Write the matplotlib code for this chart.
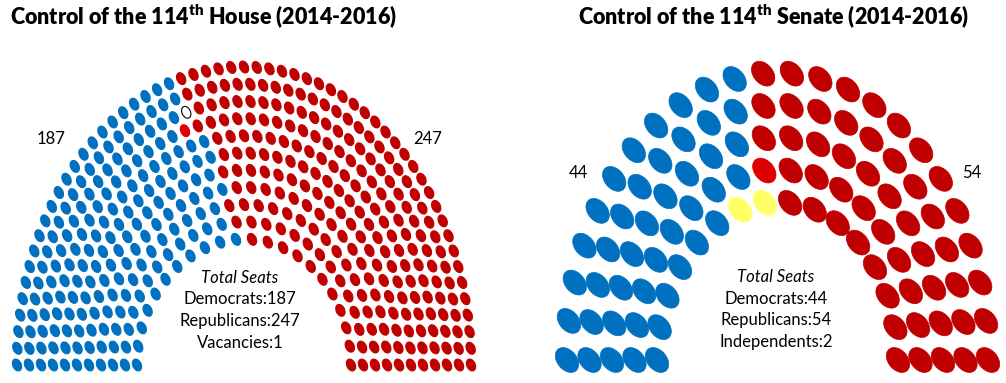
import numpy as np
import matplotlib.pyplot as plt
from matplotlib.patches import Ellipse
from matplotlib.collections import PatchCollection

plt.rcParams['font.family'] = ['Lato', 'DejaVu Sans']
plt.rcParams['mathtext.fontset'] = 'custom'
plt.rcParams['mathtext.bf'] = 'Lato:heavy'
plt.rcParams['mathtext.rm'] = 'Lato'

# ---- House (114th congress) ----
house_labels = ['Democrats', 'Republicans', 'Vacancies']
house_seats = [187, 247, 1]
# seats per ring, outer ring first
house_rings = [57, 54, 50, 46, 43, 40, 36, 32, 29, 26, 22]
# party runs along each ring, left to right
house_runs = [
    [('D', 23), ('R', 34)],
    [('D', 22), ('R', 32)],
    [('D', 20), ('V', 1), ('R', 29)],
    [('D', 18), ('R2', 1), ('R', 27)],
    [('D', 19), ('R', 24)],
    [('D', 18), ('R', 22)],
    [('D', 16), ('R', 20)],
    [('D', 15), ('R', 17)],
    [('D', 13), ('R', 16)],
    [('D', 12), ('R', 14)],
    [('D', 11), ('R', 11)],
]

# ---- Senate ----
senate_labels = ['Democrats', 'Republicans', 'Independents']
senate_seats = [44, 54, 2]
senate_rings = [24, 22, 20, 18, 16]
senate_runs = [
    [('D', 11), ('R', 13)],
    [('D', 10), ('R', 12)],
    [('D', 9), ('R', 11)],
    [('D', 8), ('R2', 1), ('R', 9)],
    [('D', 6), ('I', 2), ('R', 8)],
]

colors = {'D': '#0070C0', 'R': '#C00000', 'R2': '#DD0000',
          'I': '#FFFF66', 'V': 'white'}

fig = plt.figure(figsize=(10.06, 3.83), dpi=100)
ax = fig.add_axes([0, 0, 1, 1])
ax.set_xlim(0, 1006)
ax.set_ylim(383, 0)
ax.axis('off')


def draw_chamber(cx, cy, a_out, a_in, b_out, b_in, rings, runs, w, h, ang, lw):
    k = len(rings)
    a_list = np.linspace(a_out, a_in, k)
    b_list = np.linspace(b_out, b_in, k)
    patches, fcs, ecs = [], [], []
    for a, b, n, run in zip(a_list, b_list, rings, runs):
        t = np.linspace(0, np.pi, n)
        xs = cx - a * np.cos(t)
        ys = cy - b * np.sin(t)
        seats = [p for p, c in run for _ in range(c)]
        for x, y, p in zip(xs, ys, seats):
            patches.append(Ellipse((x, y), w, h, angle=ang))
            fcs.append(colors[p])
            ecs.append('black' if p == 'V' else colors[p])
    pc = PatchCollection(patches, facecolors=fcs, edgecolors=ecs, linewidths=lw)
    ax.add_collection(pc)


draw_chamber(244, 365, 227, 107, 298, 126, house_rings, house_runs,
             12.5, 8.5, 65, 0.8)
draw_chamber(777.5, 360, 210.5, 120.5, 287, 158, senate_rings, senate_runs,
             28, 19.5, 50, 0.5)

title_kw = dict(fontsize=15.5, fontweight='heavy', va='baseline', ha='left')
ax.text(10, 24, 'Control of the 114$^{\\mathbf{th}}$ House (2014-2016)', **title_kw)
ax.text(578, 24, 'Control of the 114$^{\\mathbf{th}}$ Senate (2014-2016)', **title_kw)

num_kw = dict(fontsize=12, ha='center', va='center')
ax.text(51, 139, str(house_seats[0]), **num_kw)
ax.text(428, 139, str(house_seats[1]), **num_kw)
ax.text(578, 173, str(senate_seats[0]), **num_kw)
ax.text(972, 173, str(senate_seats[1]), **num_kw)


def seat_box(cx, top, labels, seats):
    ax.text(cx, top, 'Total Seats', fontsize=12, style='italic',
            ha='center', va='center')
    for i, (lab, n) in enumerate(zip(labels, seats)):
        ax.text(cx, top + 21.5 * (i + 1), f'{lab}:{n}', fontsize=12,
                ha='center', va='center')


seat_box(240, 278, house_labels, house_seats)
seat_box(776, 277, senate_labels, senate_seats)

fig.savefig('out.png', dpi=100)
